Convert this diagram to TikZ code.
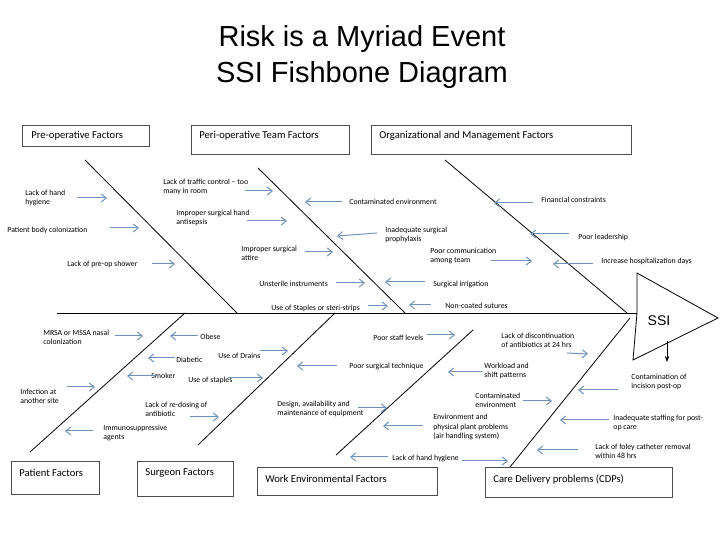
\documentclass[tikz,border=0pt]{standalone}
\usepackage{fontspec}
\setmainfont{Carlito}
\newfontfamily\titlefont{Liberation Sans}
\usetikzlibrary{arrows.meta,positioning}

\begin{document}
\begin{tikzpicture}[%
x=0.5pt, y=-0.5pt,
bone/.style={draw=black, line width=0.4pt},
cat/.style={draw=black!70, line width=0.5pt, minimum height=0pt, inner sep=0pt},
lbl/.style={anchor=west, align=left, inner sep=0pt, font=\fontsize{3.9}{4.6}\selectfont},
arr/.style={draw={rgb,255:red,110;green,145;blue,185}, line width=0.5pt, -{Straight Barb[length=2.5pt,width=4pt]}}
]
\useasboundingbox (0,0) rectangle (720,540);

% title
\node[font=\titlefont\fontsize{14.5}{18}\selectfont, align=center] (title) at (362,57)
  {Risk is a Myriad Event\\SSI Fishbone Diagram};

% category boxes
\draw[cat] (23,126) rectangle (150,147);
\node[lbl, font=\fontsize{5.3}{6}\selectfont] (pre) at (31,136) {Pre-operative Factors};
\draw[cat] (192,126) rectangle (350,155);
\node[lbl, font=\fontsize{5.3}{6}\selectfont] (peri) at (199,136) {Peri-operative Team Factors};
\draw[cat] (372,126) rectangle (632,155);
\node[lbl, font=\fontsize{5.3}{6}\selectfont] (org) at (379,136) {Organizational and Management Factors};
\draw[cat] (12,462) rectangle (100,495);
\node[lbl, font=\fontsize{5.3}{6}\selectfont] (pat) at (19,473) {Patient Factors};
\draw[cat] (138,462) rectangle (234,497);
\node[lbl, font=\fontsize{5.3}{6}\selectfont] (sur) at (145,473) {Surgeon Factors};
\draw[cat] (258,468) rectangle (438,496);
\node[lbl, font=\fontsize{5.3}{6}\selectfont] (work) at (265,479) {Work Environmental Factors};
\draw[cat] (486,468) rectangle (673,498);
\node[lbl, font=\fontsize{5.3}{6}\selectfont] (cdp) at (493,479) {Care Delivery problems (CDPs)};

% spine, head and bones
\draw[bone] (57,313) -- (637,313);
\draw[bone] (637,273) -- (718,318) -- (633,360) -- (637,313) -- cycle;
\node[font=\titlefont\fontsize{7}{8}\selectfont] (ssi) at (659,321) {SSI};
\draw[bone, -{Stealth[length=3pt]}] (667,341) -- (667,362);
\draw[bone] (85,160) -- (237,313);
\draw[bone] (258,168) -- (405,313);
\draw[bone] (445,160) -- (627,313);
\draw[bone] (185,313) -- (30,452);
\draw[bone] (335,313) -- (198,445);
\draw[bone] (473,330) -- (336,455);
\draw[bone] (630,318) -- (510,467);

% pre-operative
\node[lbl] (hyg) at (25,198) {Lack of hand\\hygiene};
\draw[arr] (77,198) -- (107,198);
\node[lbl] (body) at (7,230) {Patient body colonization};
\draw[arr] (110,228) -- (139,228);
\node[lbl] (shower) at (67,264) {Lack of pre-op shower};
\draw[arr] (152,264) -- (175,264);

% peri-operative team
\node[lbl] (traffic) at (163,187) {Lack of traffic control -- too\\many in room};
\draw[arr] (245,191) -- (273,191);
\node[lbl] (hand) at (176,218) {Improper surgical hand\\antisepsis};
\draw[arr] (247,221) -- (287,221);
\node[lbl] (attire) at (241,253) {Improper surgical\\attire};
\draw[arr] (305,252) -- (333,252);
\node[lbl] (instr) at (259,284) {Unsterile instruments};
\draw[arr] (336,283) -- (365,283);
\node[lbl] (staples) at (271,308) {Use of Staples or steri-strips};
\draw[arr] (368,306) -- (388,306);
\node[lbl] (contam) at (349,202) {Contaminated environment};
\draw[arr] (342,202) -- (305,202);
\node[lbl] (proph) at (385,235) {Inadequate surgical\\prophylaxis};
\draw[arr] (377,233) -- (337,236);
\node[lbl] (comm) at (430,256) {Poor communication\\among team};
\draw[arr] (491,261) -- (532,261);
\node[lbl] (irrig) at (433,284) {Surgical irrigation};
\draw[arr] (425,282) -- (385,282);
\node[lbl] (sutures) at (445,306) {Non-coated sutures};
\draw[arr] (431,305) -- (409,305);

% organizational
\node[lbl] (fin) at (541,200) {Financial constraints};
\draw[arr] (533,203) -- (494,203);
\node[lbl] (lead) at (578,237) {Poor leadership};
\draw[arr] (569,234) -- (530,234);
\node[lbl] (days) at (601,261) {Increase hospitalization days};
\draw[arr] (593,264) -- (553,264);

% patient
\node[lbl] (mrsa) at (43,337) {MRSA or MSSA nasal\\colonization};
\draw[arr] (115,336) -- (143,336);
\node[lbl] (obese) at (200,337) {Obese};
\draw[arr] (198,336) -- (170,336);
\node[lbl] (diab) at (176,360) {Diabetic};
\draw[arr] (175,358) -- (148,358);
\node[lbl] (smoke) at (151,376) {Smoker};
\draw[arr] (158,376) -- (127,376);
\node[lbl] (infect) at (20,396) {Infection at\\another site};
\draw[arr] (67,387) -- (95,387);
\node[lbl] (immuno) at (103,433) {Immunosuppressive\\agents};
\draw[arr] (93,431) -- (65,431);

% surgeon
\node[lbl] (drains) at (218,356) {Use of Drains};
\draw[arr] (260,351) -- (288,351);
\node[lbl] (ustap) at (188,380) {Use of staples};
\draw[arr] (228,378) -- (263,378);
\node[lbl] (redose) at (145,409) {Lack of re-dosing of\\antibiotic};
\draw[arr] (190,417) -- (219,417);

% work environment
\node[lbl] (staff) at (373,338) {Poor staff levels};
\draw[arr] (427,335) -- (455,335);
\node[lbl] (tech) at (349,366) {Poor surgical technique};
\draw[arr] (337,366) -- (297,366);
\node[lbl] (equip) at (277,409) {Design, availability and\\maintenance of equipment};
\draw[arr] (358,408) -- (387,408);
\node[lbl] (plant) at (433,427) {Environment and\\physical plant problems\\(air handling system)};
\draw[arr] (423,426) -- (383,426);
\node[lbl] (hhyg) at (392,458) {Lack of hand hygiene};
\draw[arr] (388,457) -- (350,457);
\draw[arr] (462,461) -- (508,461);

% care delivery
\node[lbl] (shift) at (484,371) {Workload and\\shift patterns};
\draw[arr] (482,372) -- (448,372);
\node[lbl] (cenv) at (475,400) {Contaminated\\environment};
\draw[arr] (523,401) -- (552,401);
\node[lbl] (discont) at (501,340) {Lack of discontinuation\\of antibiotics at 24 hrs};
\draw[arr] (567,353) -- (588,354);
\node[lbl] (incis) at (631,382) {Contamination of\\incision post-op};
\draw[arr] (618,390) -- (578,390);
\node[lbl] (postop) at (613,423) {Inadequate staffing for post-\\op care};
\draw[arr] (609,420) -- (560,420);
\node[lbl] (foley) at (595,451) {Lack of foley catheter removal\\within 48 hrs};
\draw[arr] (578,450) -- (537,450);
\end{tikzpicture}
\end{document}
